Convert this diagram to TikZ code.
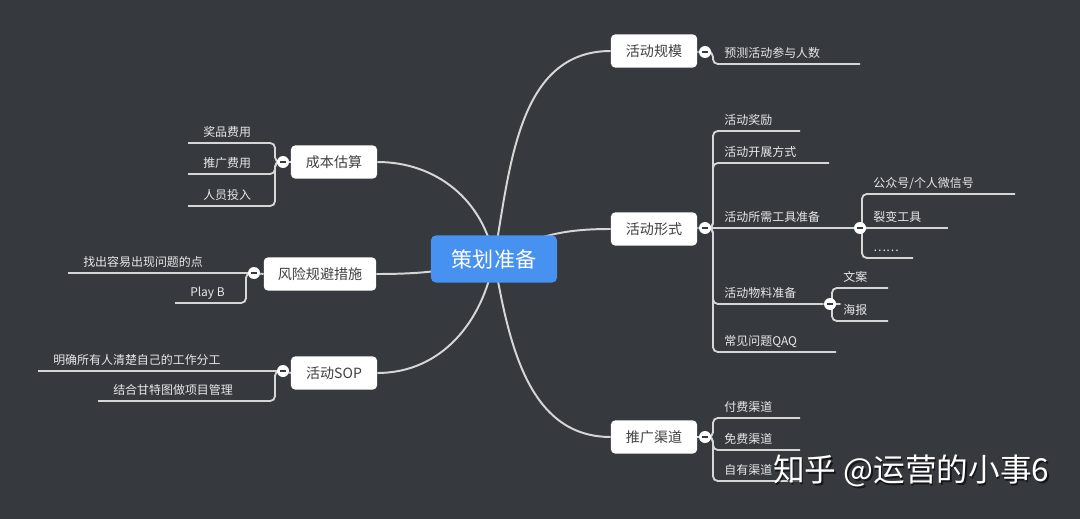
\documentclass[tikz,border=0pt]{standalone}
\usepackage{fontspec}
\setmainfont{Noto Sans CJK SC}
\definecolor{bgdark}{RGB}{54,57,62}
\definecolor{planblue}{RGB}{71,145,240}
\definecolor{boxtext}{RGB}{64,64,64}
\definecolor{leaftext}{RGB}{232,232,232}
\definecolor{linegray}{RGB}{214,214,214}
\pgfdeclarelayer{canvas}
\pgfdeclarelayer{links}
\pgfsetlayers{canvas,links,main}

\begin{document}
\begin{tikzpicture}[x=0.025cm, y=-0.025cm,
  topic/.style={fill=white, text=boxtext, rounded corners=0.1cm, minimum width=2.15cm, minimum height=0.825cm, inner xsep=0.35cm, font=\fontsize{10}{12}\selectfont},
  dot/.style={circle, fill=white, inner sep=0pt, minimum size=0.3cm, path picture={\draw[bgdark, line width=1.1pt] ([xshift=-0.08cm]path picture bounding box.center) -- ([xshift=0.08cm]path picture bounding box.center);}},
  leaf/.style={anchor=base west, inner sep=0pt, yshift=0.16cm, text=leaftext, font=\fontsize{8.5}{10}\selectfont},
  leafR/.style={leaf, xshift=0.28cm},
  leafL/.style={leaf, xshift=0.375cm},
  twig/.style={draw=linegray, line width=1.3pt, rounded corners=0.12cm},
  limb/.style={draw=linegray, line width=1.4pt},
  stamp/.style={anchor=west, inner sep=0pt, font=\fontsize{22.5}{26}\selectfont, text=white}]
\begin{pgfonlayer}{canvas}
\fill[bgdark] (0,0) rectangle (1080,519);
\end{pgfonlayer}
\useasboundingbox (0,0) rectangle (1080,519);

\node[fill=planblue, text=white, rounded corners=0.12cm, minimum width=3.15cm, minimum height=1.175cm, font=\fontsize{15}{18}\selectfont] (plan) at (494,259) {策划准备};

\node[topic] (scale) at (654,51) {活动规模};
\node[topic] (form) at (654,229) {活动形式};
\node[topic] (promo) at (654,437) {推广渠道};
\node[topic] (cost) at (334,162) {成本估算};
\node[topic] (risk) at (320,274) {风险规避措施};
\node[topic] (sop) at (334,373) {活动SOP};

\node[dot] (scaleDot) at (705,52) {};
\node[dot] (formDot) at (705,228) {};
\node[dot] (promoDot) at (705,437) {};
\node[dot] (costDot) at (283,162) {};
\node[dot] (riskDot) at (254,273) {};
\node[dot] (sopDot) at (283,371) {};
\node[dot] (toolDot) at (860,228) {};
\node[dot] (matDot) at (830,304) {};

% right side
\coordinate (scaleTrunk) at (713,52);
\coordinate (crowdEnd) at (860,64);
\node[leafR] (crowd) at (scaleTrunk |- crowdEnd) {预测活动参与人数};

\coordinate (formTrunk) at (713,228);
\coordinate (awardEnd) at (800,131);
\coordinate (modeEnd) at (829,163);
\coordinate (qaEnd) at (836,352);
\node[leafR] (award) at (formTrunk |- awardEnd) {活动奖励};
\node[leafR] (mode) at (formTrunk |- modeEnd) {活动开展方式};
\node[leafR] (tool) at (formTrunk |- toolDot) {活动所需工具准备};
\node[leafR] (mat) at (formTrunk |- matDot) {活动物料准备};
\node[leafR] (qa) at (formTrunk |- qaEnd) {常见问题QAQ};

\coordinate (toolTrunk) at (862,228);
\coordinate (wechatEnd) at (1015,194);
\coordinate (fissionEnd) at (948,228);
\coordinate (etcEnd) at (913,258);
\node[leafR] (wechat) at (toolTrunk |- wechatEnd) {公众号/个人微信号};
\node[leafR] (fission) at (toolTrunk |- fissionEnd) {裂变工具};
\node[leafR] (etc) at (toolTrunk |- etcEnd) {……};

\coordinate (matTrunk) at (832,304);
\coordinate (copyEnd) at (888,288);
\coordinate (posterEnd) at (888,321);
\node[leafR] (copy) at (matTrunk |- copyEnd) {文案};
\node[leafR] (poster) at (matTrunk |- posterEnd) {海报};

\coordinate (promoTrunk) at (713,437);
\coordinate (paidEnd) at (800,418);
\coordinate (freeEnd) at (800,450);
\coordinate (ownEnd) at (800,481);
\node[leafR] (paid) at (promoTrunk |- paidEnd) {付费渠道};
\node[leafR] (free) at (promoTrunk |- freeEnd) {免费渠道};
\node[leafR] (own) at (promoTrunk |- ownEnd) {自有渠道};

% left side
\coordinate (costTrunk) at (275,162);
\coordinate (prizeEnd) at (188,143);
\coordinate (feeEnd) at (188,174);
\coordinate (staffEnd) at (188,206);
\node[leafL] (prize) at (prizeEnd) {奖品费用};
\node[leafL] (fee) at (feeEnd) {推广费用};
\node[leafL] (staff) at (staffEnd) {人员投入};

\coordinate (riskTrunk) at (246,273);
\coordinate (pointsEnd) at (68,273);
\coordinate (planBEnd) at (175,303);
\node[leafL] (points) at (pointsEnd) {找出容易出现问题的点};
\node[leafL] (planB) at (planBEnd) {Play B};

\coordinate (sopTrunk) at (275,371);
\coordinate (roleEnd) at (38,371);
\coordinate (ganttEnd) at (98,401);
\node[leafL] (role) at (roleEnd) {明确所有人清楚自己的工作分工};
\node[leafL] (gantt) at (ganttEnd) {结合甘特图做项目管理};

\begin{pgfonlayer}{links}
\draw[limb] (plan.center) to[out=80,in=180] (scale.west);
\draw[limb] (plan.center) to[out=30,in=180] (form.west);
\draw[limb] (plan.center) to[out=-80,in=180] (promo.west);
\draw[limb] (plan.center) to[out=100,in=0] (cost.east);
\draw[limb] (plan.center) to[out=195,in=0] (risk.east);
\draw[limb] (plan.center) to[out=-100,in=0] (sop.east);

\draw[twig] (scale) -- (scaleDot);
\draw[twig] (form) -- (formDot);
\draw[twig] (promo) -- (promoDot);
\draw[twig] (cost) -- (costDot);
\draw[twig] (risk.west) -- (riskDot);
\draw[twig] (sop.west) -- (sopDot);

\draw[twig] (scaleDot) -- (scaleTrunk) |- (crowdEnd);

\draw[twig] (formDot) -- (formTrunk) |- (awardEnd);
\draw[twig] (formDot) -- (formTrunk) |- (modeEnd);
\draw[twig] (formDot) -- (toolDot);
\draw[twig] (formDot) -- (formTrunk) |- (matDot);
\draw[twig] (formDot) -- (formTrunk) |- (qaEnd);

\draw[twig] (toolDot) -- (toolTrunk) |- (wechatEnd);
\draw[twig] (toolDot) -- (fissionEnd);
\draw[twig] (toolDot) -- (toolTrunk) |- (etcEnd);

\draw[twig] (matDot) -- (matTrunk) |- (copyEnd);
\draw[twig] (matDot) -- (matTrunk) |- (posterEnd);

\draw[twig] (promoDot) -- (promoTrunk) |- (paidEnd);
\draw[twig] (promoDot) -- (promoTrunk) |- (freeEnd);
\draw[twig] (promoDot) -- (promoTrunk) |- (ownEnd);

\draw[twig] (costDot) -- (costTrunk) |- (prizeEnd);
\draw[twig] (costDot) -- (costTrunk) |- (feeEnd);
\draw[twig] (costDot) -- (costTrunk) |- (staffEnd);

\draw[twig] (riskDot) -- (pointsEnd);
\draw[twig] (riskDot) -- (riskTrunk) |- (planBEnd);

\draw[twig] (sopDot) -- (roleEnd);
\draw[twig] (sopDot) -- (sopTrunk) |- (ganttEnd);
\end{pgfonlayer}

\node[stamp, text=black, opacity=0.6, xshift=1pt, yshift=-1pt] (stampShade) at (773,471) {知乎 @运营的小事6};
\node[stamp] (stampText) at (773,471) {知乎 @运营的小事6};
\end{tikzpicture}
\end{document}
